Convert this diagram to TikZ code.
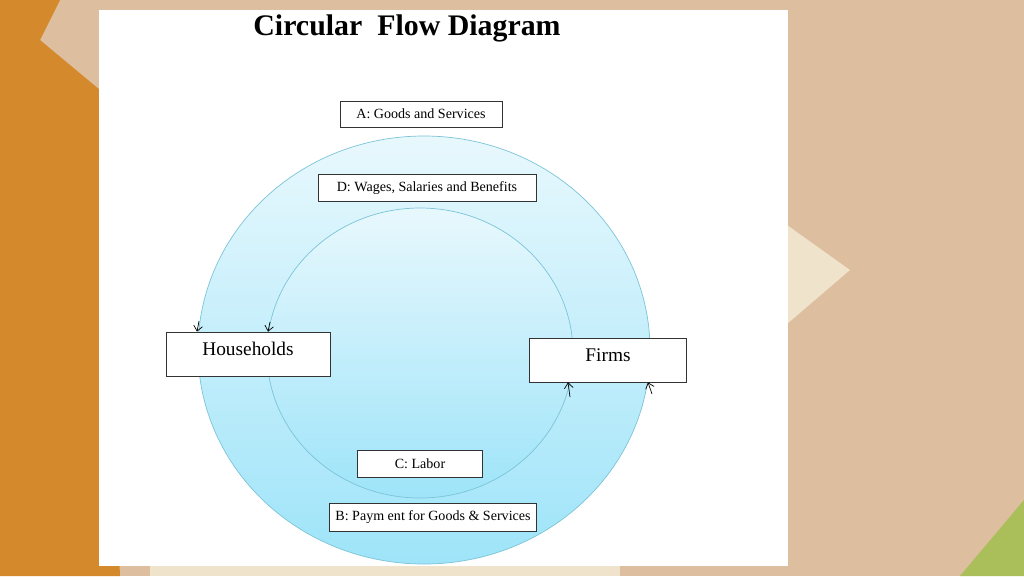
\documentclass[tikz,border=0pt]{standalone}
\usepackage{fontspec}
\setmainfont{Liberation Serif}
\usetikzlibrary{arrows.meta}
\definecolor{kraft}{HTML}{DDBE9F}
\definecolor{orangepaper}{HTML}{D48A2C}
\definecolor{lightpaper}{HTML}{EFE3CC}
\definecolor{skytop}{HTML}{E8F8FD}
\definecolor{skybot}{HTML}{9EE4F9}
\definecolor{ringline}{HTML}{7CC4D8}
\tikzset{
  flowbox/.style={draw=black!80,fill=white,inner sep=0pt,font=\fontsize{8}{9}\selectfont},
  sectorbox/.style={draw=black!80,fill=white,inner sep=0pt,font=\fontsize{11}{12}\selectfont},
  ring/.style={draw=ringline,top color=skytop,bottom color=skybot},
  tick/.style={-{Straight Barb[length=3pt,width=5pt]},thin}
}
\begin{document}
\begin{tikzpicture}[x=0.02cm,y=-0.02cm]
  \useasboundingbox (0,0) rectangle (1024,576);
  % background paper
  \fill[kraft] (0,0) rectangle (1024,576);
  \fill[orangepaper] (0,0) -- (60,0) -- (40,40) -- (100,90) -- (120,576) -- (0,576) -- cycle;
  \fill[lightpaper] (780,220) -- (850,270) -- (780,330) -- cycle;
  \fill[lightpaper] (150,560) rectangle (620,576);
  \fill[olive!70!green!60] (960,576) -- (1024,500) -- (1024,576) -- cycle;
  \fill[white] (99,10) rectangle (788,566);

  % title
  \node (title) at (407,28) {\fontsize{17}{19}\selectfont\bfseries Circular\ \ Flow Diagram};

  % rings
  \shade[ring] (424,350) ellipse [x radius=226, y radius=214];
  \shade[ring] (420,353) ellipse [x radius=153, y radius=145];

  % flow labels
  \node[flowbox,minimum width=162*0.02cm,minimum height=26*0.02cm] (goods) at (421,114) {A: Goods and Services};
  \node[flowbox,minimum width=218*0.02cm,minimum height=27*0.02cm] (wages) at (427,188) {D: Wages, Salaries and Benefits};
  \node[flowbox,minimum width=125*0.02cm,minimum height=27*0.02cm] (labor) at (420,464) {C: Labor};
  \node[flowbox,minimum width=207*0.02cm,minimum height=28*0.02cm] (payment) at (433,517) {B: Paym ent for Goods \& Services};

  % sectors
  \node[sectorbox,minimum width=164*0.02cm,minimum height=44*0.02cm] (households) at (248,354) {\raisebox{6pt}{Households}};
  \node[sectorbox,minimum width=157*0.02cm,minimum height=44*0.02cm] (firms) at (608,360) {\raisebox{6pt}{Firms}};

  % arrow tips
  \coordinate (hOut) at (199,321);
  \coordinate (hIn) at (270,322);
  \coordinate (fIn) at (570,397);
  \coordinate (fOut) at (652,394);
  \draw[tick] (hOut) -- (households.north west -| 197,0);
  \draw[tick] (hIn) -- (households.north west -| 268,0);
  \draw[tick] (fIn) -- (firms.south west -| 568,0);
  \draw[tick] (fOut) -- (firms.south west -| 648,0);
\end{tikzpicture}
\end{document}
